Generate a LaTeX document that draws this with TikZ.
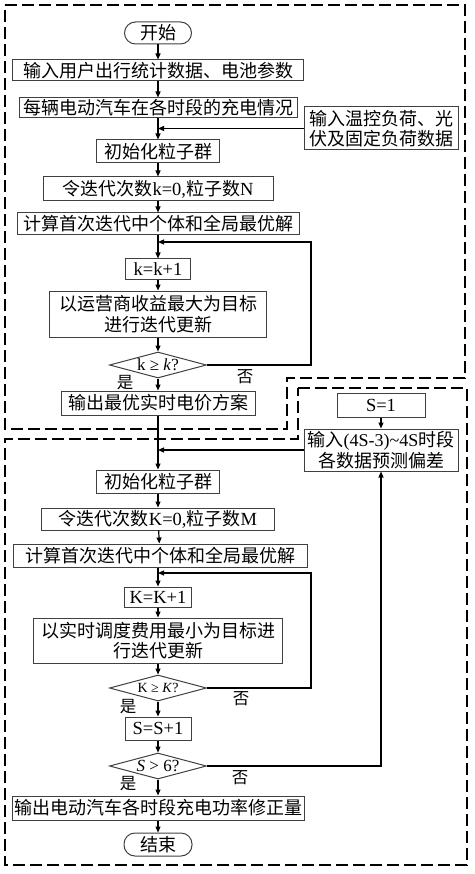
\documentclass[tikz,border=0pt]{standalone}
\usepackage{fontspec}
\setmainfont{Liberation Serif}
\newfontfamily\cjk{Noto Sans CJK SC}
\usetikzlibrary{shapes.geometric,arrows.meta,calc}
\begin{document}
\begin{tikzpicture}[x=1pt,y=-1pt,
  box/.style={draw=black!75, line width=1pt, inner sep=0pt, align=center,
    font=\fontsize{18}{20.5}\selectfont\cjk},
  term/.style={box, rounded corners=11pt},
  dec/.style={draw=black!75, line width=1pt, diamond, shape aspect=3.7, inner sep=0pt,
    minimum width=97pt, minimum height=26pt, font=\fontsize{17}{18}\selectfont},
  lbl/.style={inner sep=0pt, font=\fontsize{16.5}{18}\selectfont\cjk},
  arr/.style={line width=1.2pt, -{Triangle[length=6pt,width=5pt]}},
  frame/.style={line width=2pt, dash pattern=on 12pt off 5pt}]
\useasboundingbox (0,0) rectangle (474,874);

% frames
\draw[frame] (5,5) -- (465,5) -- (465,378) -- (287,378) -- (287,429) -- (5,429) -- cycle;
\draw[frame] (298,388) -- (467,388) -- (467,865) -- (5,865) -- (5,439) -- (298,439) -- cycle;

% stage 1
\node[term, minimum width=67pt, minimum height=22pt] (start) at (158,33) {开始};
\node[box, minimum width=291pt, minimum height=21pt] (b1) at (158,70.5) {输入用户出行统计数据、电池参数};
\node[box, minimum width=278pt, minimum height=20pt] (b2) at (158,108) {每辆电动汽车在各时段的充电情况};
\node[box, minimum width=154pt, minimum height=43pt] (side1) at (381,128.5) {输入温控负荷、光\\伏及固定负荷数据};
\node[box, minimum width=123pt, minimum height=23pt] (b3) at (158,151.5) {初始化粒子群};
\node[box, minimum width=230pt, minimum height=24pt] (b4) at (158,189) {令迭代次数{\rmfamily\fontsize{18.5}{20}\selectfont k=0,}粒子数{\rmfamily\fontsize{18.5}{20}\selectfont N}};
\node[box, minimum width=282pt, minimum height=22pt] (b5) at (158,224) {计算首次迭代中个体和全局最优解};
\node[box, minimum width=65pt, minimum height=20pt, font=\fontsize{18.5}{20}\selectfont\rmfamily] (b6) at (158,269) {k=k+1};
\node[box, minimum width=217pt, minimum height=46pt] (b7) at (158,314) {以运营商收益最大为目标\\进行迭代更新};
\node[dec] (d1) at (158,365) {k ≥ \textit{k}?};
\node[box, minimum width=194pt, minimum height=24pt] (b8) at (158,403) {输出最优实时电价方案};

% stage 2
\node[box, minimum width=88pt, minimum height=24pt, font=\fontsize{18.5}{20}\selectfont\rmfamily] (s1) at (381,405) {S=1};
\node[box, minimum width=154pt, minimum height=42pt] (side2) at (381,450) {输入{\rmfamily\fontsize{18}{20}\selectfont(4S-3)\textasciitilde 4S}时段\\各数据预测偏差};
\node[box, minimum width=123pt, minimum height=23pt] (c1) at (158,481.5) {初始化粒子群};
\node[box, minimum width=233pt, minimum height=22pt] (c2) at (158,519) {令迭代次数{\rmfamily\fontsize{18.5}{20}\selectfont K=0,}粒子数{\rmfamily\fontsize{18.5}{20}\selectfont M}};
\node[box, minimum width=294pt, minimum height=23pt] (c3) at (160,555.5) {计算首次迭代中个体和全局最优解};
\node[box, minimum width=67pt, minimum height=20pt, font=\fontsize{18.5}{20}\selectfont\rmfamily] (c4) at (158,597) {K=K+1};
\node[box, minimum width=249pt, minimum height=45pt] (c5) at (158,640.5) {以实时调度费用最小为目标进\\行迭代更新};
\node[dec, font=\fontsize{14}{15}\selectfont] (d2) at (158,688) {K ≥ \textit{K}?};
\node[box, minimum width=66pt, minimum height=23pt, font=\fontsize{18.5}{20}\selectfont\rmfamily] (c6) at (158,728.5) {S=S+1};
\node[dec] (d3) at (158,766) {\textit{S} > 6?};
\node[box, minimum width=292pt, minimum height=24pt] (c7) at (158,808) {输出电动汽车各时段充电功率修正量};
\node[term, minimum width=68pt, minimum height=23pt] (end) at (158,844.5) {结束};

% labels
\node[lbl] (y1) at (125,383) {是};
\node[lbl] (n1) at (245,377) {否};
\node[lbl] (y2) at (128,707) {是};
\node[lbl] (n2) at (241,699) {否};
\node[lbl] (y3) at (128,784) {是};
\node[lbl] (n3) at (240,778) {否};

% junction coordinates
\coordinate (j1) at (158,128.5);
\coordinate (j2) at (158,242);
\coordinate (r1) at (311,242);
\coordinate (j3) at (158,450);
\coordinate (j4) at (158,573);
\coordinate (r2) at (311,573);

% connectors
\draw[arr] (start) -- (b1);
\draw[arr] (b1) -- (b2);
\draw[arr] (b2) -- (b3);
\draw[arr] (side1.west) -- (j1);
\draw[arr] (b3) -- (b4);
\draw[arr] (b4) -- (b5);
\draw[arr] (b5) -- (b6);
\draw[arr] (d1.east) -| (r1) -- (j2);
\draw[arr] (b6) -- (b7);
\draw[arr] (b7) -- (d1);
\draw[arr] (d1) -- (b8);
\draw[arr] (b8) -- (c1);
\draw[arr] (s1) -- (side2);
\draw[arr] (side2.west) -- (j3);
\draw[arr] (c1) -- (c2);
\draw[arr] (c2) -- (c3);
\draw[arr] (c3.south -| c4) -- (c4);
\draw[arr] (d2.east) -| (r2) -- (j4);
\draw[arr] (c4) -- (c5);
\draw[arr] (c5) -- (d2);
\draw[arr] (d2) -- (c6);
\draw[arr] (c6) -- (d3);
\draw[arr] (d3.east) -| (side2.south);
\draw[arr] (d3) -- (c7);
\draw[arr] (c7) -- (end);
\end{tikzpicture}
\end{document}
